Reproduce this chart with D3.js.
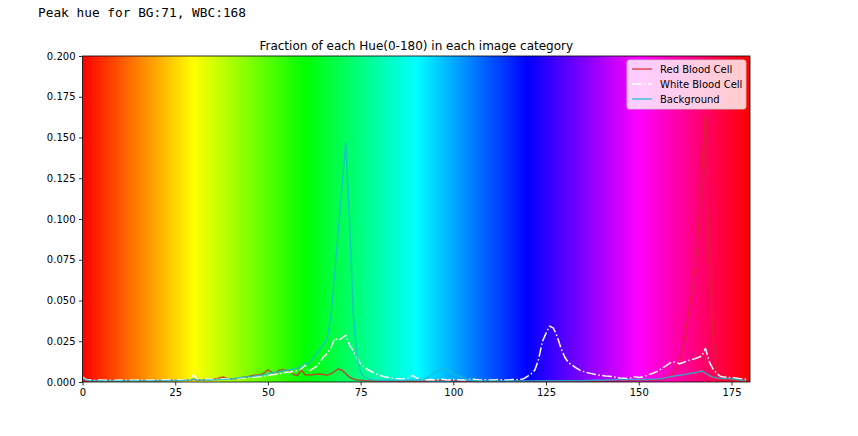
<!DOCTYPE html>
<html>
<head>
<meta charset="utf-8">
<script src="https://cdn.jsdelivr.net/npm/d3@7"></script>
<style>
  html, body { margin: 0; padding: 0; background: #fff; }
  svg { display: block; }
</style>
</head>
<body>
<svg id="chart" width="858" height="436"></svg>
<script>
// ---------------- DATA ----------------
const headerText = "Peak hue for BG:71, WBC:168";
const titleText = "Fraction of each Hue(0-180) in each image category";
const seriesNames = ["Red Blood Cell", "White Blood Cell", "Background"];
const xTicks = [0, 25, 50, 75, 100, 125, 150, 175];
const yTicks = [0.000, 0.025, 0.050, 0.075, 0.100, 0.125, 0.150, 0.175, 0.200];
const hueDomain = [0, 180];
const fracDomain = [0, 0.2];

// one value per hue bin 0..179
const rbc = [
  0.0015,0.0010,0.0008,0.0007,0.0008,0.0007,0.0006,0.0007,0.0008,0.0007,
  0.0007,0.0006,0.0007,0.0008,0.0007,0.0007,0.0008,0.0009,0.0008,0.0007,
  0.0008,0.0009,0.0008,0.0009,0.0010,0.0009,0.0010,0.0011,0.0010,0.0012,
  0.0016,0.0011,0.0012,0.0014,0.0013,0.0015,0.0020,0.0026,0.0031,0.0021,
  0.0018,0.0020,0.0023,0.0028,0.0030,0.0035,0.0040,0.0043,0.0045,0.0055,
  0.0074,0.0060,0.0053,0.0072,0.0075,0.0070,0.0065,0.0045,0.0040,0.0074,
  0.0045,0.0043,0.0045,0.0047,0.0049,0.0046,0.0043,0.0050,0.0065,0.0080,
  0.0072,0.0050,0.0030,0.0018,0.0012,0.0010,0.0008,0.0007,0.0006,0.0005,
  0.0005,0.0004,0.0005,0.0004,0.0004,0.0005,0.0004,0.0005,0.0006,0.0005,
  0.0005,0.0004,0.0005,0.0006,0.0007,0.0009,0.0011,0.0012,0.0010,0.0009,
  0.0008,0.0006,0.0005,0.0004,0.0004,0.0005,0.0004,0.0004,0.0005,0.0004,
  0.0004,0.0005,0.0004,0.0004,0.0005,0.0004,0.0004,0.0005,0.0004,0.0004,
  0.0004,0.0004,0.0004,0.0005,0.0005,0.0004,0.0005,0.0005,0.0004,0.0004,
  0.0004,0.0005,0.0004,0.0004,0.0005,0.0004,0.0005,0.0005,0.0006,0.0005,
  0.0005,0.0006,0.0006,0.0005,0.0006,0.0006,0.0007,0.0007,0.0008,0.0008,
  0.0008,0.0009,0.0009,0.0010,0.0011,0.0012,0.0013,0.0018,0.0028,0.0045,
  0.0075,0.0120,0.0220,0.0360,0.0500,0.0660,0.0900,0.1300,0.1640,0.0720,
  0.0280,0.0080,0.0030,0.0015,0.0012,0.0010,0.0009,0.0008,0.0007,0.0006
];
const wbc = [
  0.0030,0.0015,0.0012,0.0011,0.0012,0.0013,0.0011,0.0012,0.0010,0.0011,
  0.0012,0.0011,0.0013,0.0012,0.0011,0.0012,0.0013,0.0012,0.0011,0.0012,
  0.0013,0.0012,0.0014,0.0013,0.0012,0.0013,0.0014,0.0013,0.0014,0.0016,
  0.0043,0.0016,0.0015,0.0016,0.0017,0.0016,0.0018,0.0017,0.0019,0.0018,
  0.0020,0.0021,0.0022,0.0024,0.0025,0.0027,0.0029,0.0031,0.0033,0.0036,
  0.0040,0.0045,0.0048,0.0050,0.0055,0.0060,0.0062,0.0065,0.0070,0.0080,
  0.0104,0.0063,0.0080,0.0094,0.0120,0.0155,0.0175,0.0210,0.0268,0.0255,
  0.0270,0.0288,0.0227,0.0190,0.0150,0.0110,0.0090,0.0075,0.0063,0.0050,
  0.0043,0.0035,0.0029,0.0025,0.0022,0.0020,0.0018,0.0019,0.0025,0.0040,
  0.0025,0.0018,0.0015,0.0014,0.0016,0.0013,0.0015,0.0017,0.0014,0.0013,
  0.0015,0.0016,0.0013,0.0012,0.0014,0.0020,0.0015,0.0012,0.0013,0.0014,
  0.0012,0.0013,0.0015,0.0014,0.0013,0.0012,0.0015,0.0014,0.0016,0.0020,
  0.0035,0.0050,0.0074,0.0140,0.0247,0.0300,0.0343,0.0330,0.0280,0.0210,
  0.0155,0.0120,0.0104,0.0088,0.0074,0.0065,0.0058,0.0053,0.0048,0.0043,
  0.0040,0.0037,0.0035,0.0033,0.0028,0.0024,0.0023,0.0022,0.0025,0.0033,
  0.0028,0.0030,0.0038,0.0048,0.0055,0.0065,0.0080,0.0095,0.0110,0.0124,
  0.0120,0.0112,0.0120,0.0130,0.0135,0.0142,0.0150,0.0160,0.0206,0.0125,
  0.0080,0.0053,0.0035,0.0030,0.0028,0.0028,0.0025,0.0022,0.0020,0.0018
];
const bg = [
  0.0025,0.0012,0.0008,0.0007,0.0006,0.0007,0.0006,0.0006,0.0007,0.0006,
  0.0006,0.0007,0.0006,0.0006,0.0007,0.0006,0.0007,0.0007,0.0006,0.0007,
  0.0007,0.0008,0.0007,0.0008,0.0008,0.0009,0.0008,0.0009,0.0010,0.0011,
  0.0018,0.0011,0.0012,0.0012,0.0013,0.0013,0.0014,0.0015,0.0016,0.0017,
  0.0019,0.0021,0.0024,0.0027,0.0030,0.0032,0.0035,0.0038,0.0040,0.0045,
  0.0050,0.0055,0.0060,0.0063,0.0068,0.0072,0.0075,0.0080,0.0086,0.0095,
  0.0115,0.0110,0.0140,0.0170,0.0200,0.0230,0.0270,0.0400,0.0660,0.0930,
  0.1200,0.1470,0.1000,0.0420,0.0160,0.0060,0.0030,0.0020,0.0015,0.0012,
  0.0011,0.0010,0.0010,0.0009,0.0010,0.0011,0.0010,0.0011,0.0012,0.0013,
  0.0014,0.0016,0.0018,0.0025,0.0040,0.0060,0.0070,0.0080,0.0080,0.0070,
  0.0050,0.0040,0.0030,0.0020,0.0012,0.0008,0.0007,0.0006,0.0006,0.0006,
  0.0006,0.0006,0.0006,0.0006,0.0006,0.0006,0.0006,0.0006,0.0006,0.0006,
  0.0006,0.0006,0.0006,0.0007,0.0007,0.0007,0.0007,0.0007,0.0007,0.0007,
  0.0007,0.0007,0.0007,0.0008,0.0008,0.0008,0.0009,0.0009,0.0010,0.0010,
  0.0011,0.0012,0.0013,0.0014,0.0015,0.0016,0.0016,0.0016,0.0016,0.0016,
  0.0016,0.0016,0.0016,0.0016,0.0017,0.0018,0.0020,0.0025,0.0030,0.0034,
  0.0038,0.0042,0.0045,0.0049,0.0053,0.0057,0.0062,0.0068,0.0055,0.0040,
  0.0030,0.0025,0.0023,0.0022,0.0022,0.0020,0.0017,0.0014,0.0011,0.0008
];

// ---------------- LAYOUT ----------------
const svg = d3.select("#chart");
const plot = { left: 82.5, right: 750, top: 56, bottom: 382 };
const font = "'DejaVu Sans', sans-serif";

const x = d3.scaleLinear().domain(hueDomain).range([plot.left, plot.right]);
const y = d3.scaleLinear().domain(fracDomain).range([plot.bottom, plot.top]);

// header printed text (notebook output)
svg.append("text")
  .attr("x", 38).attr("y", 17)
  .attr("font-family", "'DejaVu Sans Mono', monospace")
  .attr("font-size", 12.8)
  .attr("fill", "#000")
  .text(headerText);

// title
svg.append("text")
  .attr("x", (plot.left + plot.right) / 2).attr("y", 50)
  .attr("text-anchor", "middle")
  .attr("font-family", font).attr("font-size", 12)
  .attr("fill", "#000")
  .text(titleText);

// hue gradient background (OpenCV hue 0-180 -> degrees 0-360)
const defs = svg.append("defs");
const grad = defs.append("linearGradient")
  .attr("id", "hueGrad")
  .attr("gradientUnits", "userSpaceOnUse")
  .attr("x1", x(hueDomain[0])).attr("x2", x(hueDomain[1]))
  .attr("y1", 0).attr("y2", 0);
d3.range(hueDomain[0], hueDomain[1] + 1, 2).forEach(h => {
  grad.append("stop")
    .attr("offset", (h - hueDomain[0]) / (hueDomain[1] - hueDomain[0]))
    .attr("stop-color", d3.hsl(h * 2, 1, 0.5).formatHex());
});
svg.append("rect")
  .attr("x", plot.left).attr("y", plot.top)
  .attr("width", plot.right - plot.left).attr("height", plot.bottom - plot.top)
  .attr("fill", "url(#hueGrad)");

defs.append("clipPath").attr("id", "clip")
  .append("rect")
  .attr("x", plot.left).attr("y", plot.top)
  .attr("width", plot.right - plot.left).attr("height", plot.bottom - plot.top);

// lines
const line = d3.line().x((d, i) => x(i)).y(d => y(d));
const styles = [
  { data: rbc, color: "#d62728", opacity: 0.8, dash: null },
  { data: wbc, color: "#ffffff", opacity: 1.0, dash: "9.6,2.4,1.5,2.4" },
  { data: bg,  color: "#17becf", opacity: 0.8, dash: null }
];
const lg = svg.append("g").attr("clip-path", "url(#clip)");
styles.forEach(s => {
  lg.append("path")
    .datum(s.data)
    .attr("d", line)
    .attr("fill", "none")
    .attr("stroke", s.color)
    .attr("stroke-opacity", s.opacity)
    .attr("stroke-width", 1.5)
    .attr("stroke-linejoin", "round")
    .attr("stroke-dasharray", s.dash);
});

// axes
const xAxis = d3.axisBottom(x).tickValues(xTicks).tickSize(3.5).tickPadding(3.5).tickFormat(d3.format("d"));
const yAxis = d3.axisLeft(y).tickValues(yTicks).tickSize(3.5).tickPadding(3.5).tickFormat(d3.format(".3f"));
const gx = svg.append("g").attr("transform", `translate(0,${plot.bottom})`).call(xAxis);
const gy = svg.append("g").attr("transform", `translate(${plot.left},0)`).call(yAxis);
[gx, gy].forEach(g => {
  g.select(".domain").remove();
  g.selectAll(".tick line").attr("stroke", "#000").attr("stroke-width", 0.8);
  g.selectAll(".tick text").attr("font-family", font).attr("font-size", 10).attr("fill", "#000");
});

// spines
svg.append("rect")
  .attr("x", plot.left).attr("y", plot.top)
  .attr("width", plot.right - plot.left).attr("height", plot.bottom - plot.top)
  .attr("fill", "none").attr("stroke", "#000").attr("stroke-width", 0.8);

// legend
const leg = { x: 627, y: 60, w: 119, h: 49 };
svg.append("rect")
  .attr("x", leg.x).attr("y", leg.y).attr("width", leg.w).attr("height", leg.h)
  .attr("rx", 2.5).attr("ry", 2.5)
  .attr("fill", "#fff").attr("fill-opacity", 0.8)
  .attr("stroke", "#ccc").attr("stroke-opacity", 0.8).attr("stroke-width", 1);
seriesNames.forEach((name, i) => {
  const yy = leg.y + 9 + i * 15;
  svg.append("line")
    .attr("x1", leg.x + 5).attr("x2", leg.x + 25)
    .attr("y1", yy).attr("y2", yy)
    .attr("stroke", styles[i].color)
    .attr("stroke-opacity", styles[i].opacity)
    .attr("stroke-width", 1.5)
    .attr("stroke-dasharray", styles[i].dash);
  svg.append("text")
    .attr("x", leg.x + 33).attr("y", yy + 3.5)
    .attr("font-family", font).attr("font-size", 10)
    .attr("fill", "#000")
    .text(name);
});
</script>
</body>
</html>
